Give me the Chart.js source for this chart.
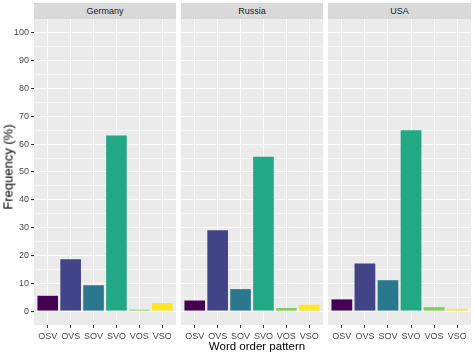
<!DOCTYPE html>
<html>
<head>
<meta charset="utf-8">
<script src="https://cdn.jsdelivr.net/npm/chart.js@4"></script>
<style>
  body { margin: 0; width: 474px; height: 353px; background: #fff; position: relative; overflow: hidden; font-family: "Liberation Sans", Arial, sans-serif; }
  canvas { position: absolute; }
  .strip { position: absolute; top: 3px; height: 16px; background: #d9d9d9; color: #1a1a1a; font-size: 9px; line-height: 16px; text-align: center; }
  .ytitle { position: absolute; left: 8px; top: 167px; transform: translate(-50%, -50%) rotate(-90deg); font-size: 13px; color: #000; white-space: nowrap; }
  .xtitle { position: absolute; left: 257px; top: 346px; transform: translate(-50%, -50%); font-size: 11.5px; color: #000; white-space: nowrap; }
</style>
</head>
<body>
<div class="strip" style="left:34px;width:142px">Germany</div>
<div class="strip" style="left:181px;width:142px">Russia</div>
<div class="strip" style="left:328px;width:143px">USA</div>
<canvas id="germany" width="176" height="334" style="left:0;top:19px"></canvas>
<canvas id="russia" width="142" height="334" style="left:181px;top:19px"></canvas>
<canvas id="usa" width="143" height="334" style="left:328px;top:19px"></canvas>
<div class="ytitle">Frequency (%)</div>
<div class="xtitle">Word order pattern</div>
<script>
const patterns = ["OSV", "OVS", "SOV", "SVO", "VOS", "VSO"];
const germany = [5.5, 18.6, 9.3, 63.1, 0.5, 2.9];
const russia = [3.8, 29.1, 7.9, 55.5, 1.1, 2.3];
const usa = [4.2, 17.1, 11.1, 65.0, 1.4, 0.8];
const yTicks = [0, 10, 20, 30, 40, 50, 60, 70, 80, 90, 100];
const yMinor = [5, 15, 25, 35, 45, 55, 65, 75, 85, 95];
const barColors = ["#440154", "#414487", "#2a788e", "#22a884", "#7ad151", "#fde725"];

// grey panel background, like ggplot
const panelBg = {
  id: "panelBg",
  beforeDraw(chart) {
    const { ctx, chartArea } = chart;
    ctx.save();
    ctx.fillStyle = "#ebebeb";
    ctx.fillRect(chartArea.left, chartArea.top, chartArea.right - chartArea.left, chartArea.bottom - chartArea.top);
    ctx.restore();
  },
};

function noPadding(s) {
  s.paddingTop = 0;
  s.paddingBottom = 0;
  s.paddingLeft = 0;
  s.paddingRight = 0;
}

function panelChart(el, values, showY) {
  const isMajor = (v) => v % 10 === 0;
  return new Chart(el, {
    type: "bar",
    data: {
      datasets: [
        {
          data: values.map((v, i) => ({ x: i + 1, y: v })),
          backgroundColor: barColors,
          barPercentage: 0.9,
          categoryPercentage: 1,
        },
      ],
    },
    options: {
      responsive: false,
      animation: false,
      devicePixelRatio: 1,
      layout: { padding: 0 },
      plugins: { legend: { display: false }, tooltip: { enabled: false } },
      scales: {
        x: {
          type: "linear",
          min: 0.4,
          max: 6.6,
          offset: false,
          afterBuildTicks: (s) => {
            s.ticks = patterns.map((p, i) => ({ value: i + 1 }));
          },
          afterFit: (s) => {
            s.height = 28;
            noPadding(s);
          },
          ticks: {
            callback: (v) => patterns[v - 1],
            autoSkip: false,
            maxRotation: 0,
            color: "#4d4d4d",
            font: { size: 9, family: "Liberation Sans" },
            padding: 3,
          },
          grid: { offset: false, color: "#ffffff", lineWidth: 1, tickLength: 3, tickColor: "#333333" },
          border: { display: false },
        },
        y: {
          min: -5,
          max: 105,
          afterBuildTicks: (s) => {
            s.ticks = yTicks.concat(yMinor).sort((a, b) => a - b).map((v) => ({ value: v }));
          },
          afterFit: (s) => {
            s.width = showY ? 34 : 0;
            noPadding(s);
          },
          ticks: {
            display: showY,
            autoSkip: false,
            callback: (v) => (isMajor(v) ? v : ""),
            color: "#4d4d4d",
            font: { size: 9, family: "Liberation Sans" },
            padding: 2,
          },
          grid: {
            color: "#ffffff",
            lineWidth: (c) => (isMajor(c.tick.value) ? 1.1 : 0.5),
            drawTicks: showY,
            tickLength: 3,
            tickColor: (c) => (isMajor(c.tick.value) ? "#333333" : "rgba(0,0,0,0)"),
          },
          border: { display: false },
        },
      },
    },
    plugins: [panelBg],
  });
}

panelChart(document.getElementById("germany"), germany, true);
panelChart(document.getElementById("russia"), russia, false);
panelChart(document.getElementById("usa"), usa, false);
</script>
</body>
</html>
